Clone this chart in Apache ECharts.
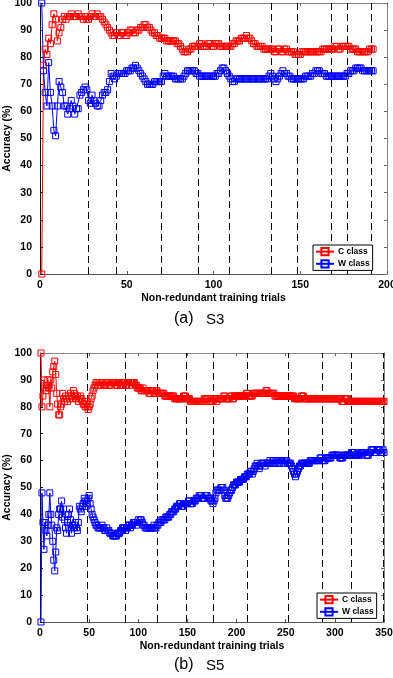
<!DOCTYPE html>
<html>
<head>
<meta charset="utf-8">
<script src="https://cdn.jsdelivr.net/npm/echarts@6/dist/echarts.min.js"></script>
<style>
html,body{margin:0;padding:0;background:#fff;}
#chart{width:393px;height:678px;}
</style>
</head>
<body>
<div id="chart"></div>
<script>
// ---- Panel (a) S3 ----
const s3C = [
0,77,83,81,87,85,92,96,94,86,
89,91,94,95,94,95,95,96,95,95,
95,96,95,95,94,95,94,94,95,96,
95,95,96,95,95,94,93,92,91,90,
89,88,88,89,88,88,89,89,88,88,
89,90,90,89,89,90,90,91,91,92,
92,91,91,90,89,89,88,88,87,87,
87,87,86,86,86,86,86,86,85,85,
84,83,82,82,82,83,83,84,84,84,
84,85,85,84,84,84,85,85,84,84,
85,85,85,84,84,84,84,84,84,84,
85,85,86,86,86,87,87,87,88,87,
87,86,85,85,84,84,84,84,83,83,
83,83,83,83,82,82,83,83,82,82,
83,83,82,82,82,82,81,81,81,81,
82,82,82,82,82,82,82,82,82,82,
82,82,83,83,83,83,83,83,83,84,
84,83,83,84,84,84,84,84,83,83,
83,83,82,82,82,82,82,82,82,83,
83,83
];
const s3W = [
100,75,67,62,78,67,62,53,51,62,
71,69,67,62,62,59,61,64,62,59,
61,61,66,67,68,69,68,64,63,66,
64,63,62,62,64,66,67,67,68,71,
74,73,72,73,74,74,74,74,74,75,
75,75,76,76,77,76,75,74,73,72,
71,70,70,70,70,71,71,71,71,71,
73,74,73,73,73,73,73,72,72,72,
72,72,73,74,75,75,75,75,75,74,
74,73,73,73,73,73,73,73,73,73,
73,74,74,75,76,76,75,74,73,72,
71,71,72,72,72,72,72,72,72,72,
72,72,72,72,72,72,72,72,72,72,
72,73,74,73,72,71,72,73,74,75,
74,74,73,73,72,72,72,72,72,72,
72,72,73,73,73,73,74,74,75,75,
75,74,74,74,73,73,73,73,73,73,
73,73,73,73,73,73,74,74,75,75,
75,76,76,76,76,75,75,75,75,75,
75,75
];
const s3Dashes = [28, 44, 70, 91, 109, 133, 148, 168, 177, 191];
const s3XTicks = [0, 50, 100, 150, 200];

// ---- Panel (b) S5 ----
const s5C = [
100,80,84,90,87,86,88,90,87,80,
90,87,93,95,97,92,85,81,77,77,
80,81,85,83,82,84,83,82,84,83,
85,84,83,86,85,84,83,84,82,83,
84,83,82,81,81,80,82,80,79,80,
81,83,84,86,87,88,89,89,88,89,
89,88,89,89,88,88,88,89,89,88,
88,89,89,89,89,89,89,88,88,89,
89,88,88,89,89,89,88,88,89,89,
88,89,89,89,89,89,88,88,87,87,
87,87,86,86,87,86,86,86,86,86,
85,85,86,86,86,85,85,86,86,85,
85,85,85,85,85,85,84,84,84,84,
84,84,84,84,84,84,83,83,83,83,
83,83,83,83,83,84,84,84,83,83,
83,83,82,82,82,82,82,82,82,82,
82,82,82,82,82,82,83,83,83,83,
83,82,82,82,82,82,83,83,83,82,
83,83,83,83,83,83,84,84,83,83,
83,83,83,84,84,83,83,84,84,84,
84,84,84,84,84,84,84,84,84,85,
85,84,84,84,84,84,85,85,85,85,
85,85,85,85,85,85,85,85,85,86,
86,85,85,85,85,85,85,85,84,84,
84,84,84,84,84,84,84,84,84,84,
84,84,84,84,84,84,84,84,83,83,
83,83,83,83,83,84,84,84,83,83,
83,83,83,83,83,83,83,83,83,83,
83,83,83,83,83,83,83,83,83,83,
83,83,83,83,83,83,83,83,83,83,
83,83,83,83,83,83,82,82,82,83,
83,83,83,82,82,82,82,82,82,82,
82,82,82,82,82,82,82,82,82,82,
82,82,82,82,82,82,82,82,82,82,
82,82,82,82,82,82,82,82,82,82
];
const s5W = [
0,48,37,27,37,34,32,36,40,48,
40,36,30,23,19,26,35,34,40,42,
42,45,39,42,38,35,33,37,40,42,
38,33,36,35,36,37,35,34,37,43,
42,41,43,44,46,45,43,44,46,47,
44,42,40,39,38,37,36,36,35,35,
35,35,36,35,35,34,34,35,34,34,
33,33,33,32,32,32,32,32,33,33,
33,34,34,35,35,35,34,35,35,36,
36,35,36,36,37,37,37,36,37,38,
37,38,38,37,36,36,35,35,35,35,
35,35,35,35,35,36,35,35,36,36,
37,37,37,38,38,38,38,39,39,39,
39,40,40,41,41,41,42,42,43,43,
43,44,44,43,43,44,44,44,44,44,
45,45,44,44,44,45,45,45,46,46,
46,47,47,47,46,46,46,47,47,47,
46,46,46,45,45,44,45,46,48,49,
49,49,49,50,50,50,49,47,46,46,
46,47,48,49,49,50,51,51,51,52,
52,52,52,53,53,53,53,54,54,54,
55,55,55,56,56,55,56,57,58,58,
59,58,57,58,59,59,59,59,58,59,
59,59,59,60,59,59,60,60,59,59,
60,60,59,59,60,60,60,59,60,60,
60,59,59,59,59,58,57,56,55,54,
55,56,57,58,58,59,59,59,59,59,
59,59,59,59,60,60,60,60,60,60,
60,60,60,60,61,61,60,60,60,60,
61,61,61,61,61,61,62,62,62,62,
62,62,62,62,61,61,61,61,62,62,
62,62,62,62,62,62,63,63,63,62,
62,62,62,62,62,63,63,63,63,63,
63,62,62,62,63,63,64,64,64,63,
63,63,64,64,64,64,63,63,64,63
];
const s5Dashes = [48, 87, 119, 149, 176, 211, 253, 287, 317, 349];
const s5XTicks = [0, 50, 100, 150, 200, 250, 300, 350];

const yTicks = [0, 10, 20, 30, 40, 50, 60, 70, 80, 90, 100];
const classNames = ['C class', 'W class'];
const captions = [['(a)', 'S3'], ['(b)', 'S5']];

const RED = '#ff0000', BLUE = '#0000ff';
const FONT = '"Liberation Sans", Arial, Helvetica, sans-serif';

function toPts(arr) { return arr.map((v, i) => [i + 1, v]); }

function lineSeries(name, color, data, xi, yi, dashes) {
  const s = {
    name: name, type: 'line', xAxisIndex: xi, yAxisIndex: yi,
    data: toPts(data), symbol: 'rect', symbolSize: 6,
    lineStyle: { color: color, width: 1 },
    itemStyle: { color: 'rgba(255,255,255,0)', borderColor: color, borderWidth: 1 },
    emphasis: { disabled: true }, silent: true, z: 3
  };
  if (dashes) {
    s.markLine = {
      silent: true, symbol: 'none', z: 1, animation: false,
      label: { show: false },
      lineStyle: { type: [7, 4], color: '#000', width: 1 },
      emphasis: { disabled: true },
      data: dashes.map(d => ({ xAxis: d }))
    };
  }
  return s;
}

function xAxes(gi, max, ticks) {
  return [{
    type: 'value', gridIndex: gi, min: 0, max: max, interval: 50, position: 'bottom',
    axisLine: { onZero: false, lineStyle: { color: '#555', width: 1 } },
    axisTick: { inside: true, length: 3, lineStyle: { color: '#555' } },
    axisLabel: { color: '#000', fontFamily: FONT, fontWeight: 'bold', fontSize: 10.5, margin: 6,
      formatter: v => (ticks.indexOf(v) >= 0 ? String(v) : '') },
    splitLine: { show: false },
    name: 'Non-redundant training trials', nameLocation: 'middle', nameGap: 19, nameMoveOverlap: false,
    nameTextStyle: { color: '#000', fontFamily: FONT, fontWeight: 'bold', fontSize: 10.5 }
  }, {
    type: 'value', gridIndex: gi, min: 0, max: max, interval: 50, position: 'top',
    axisLine: { onZero: false, lineStyle: { color: '#888', width: 1 } },
    axisTick: { inside: true, length: 3, lineStyle: { color: '#666' } },
    axisLabel: { show: false }, splitLine: { show: false }
  }];
}

function yAxes(gi) {
  return [{
    type: 'value', gridIndex: gi, min: 0, max: 100, interval: 10, position: 'left',
    axisLine: { show: true, onZero: false, lineStyle: { color: '#111', width: 1 } },
    axisTick: { show: true, inside: true, length: 3, lineStyle: { color: '#111' } },
    axisLabel: { color: '#000', fontFamily: FONT, fontWeight: 'bold', fontSize: 10.5, margin: 8,
      formatter: v => (yTicks.indexOf(v) >= 0 ? String(v) : '') },
    splitLine: { show: false },
    name: 'Accuracy (%)', nameLocation: 'middle', nameGap: 27, nameRotate: 90, nameMoveOverlap: false,
    nameTextStyle: { color: '#000', fontFamily: FONT, fontWeight: 'bold', fontSize: 10.5 }
  }, {
    type: 'value', gridIndex: gi, min: 0, max: 100, interval: 10, position: 'right',
    axisLine: { show: true, onZero: false, lineStyle: { color: '#888', width: 1 } },
    axisTick: { show: true, inside: true, length: 3, lineStyle: { color: '#666' } },
    axisLabel: { show: false }, splitLine: { show: false }
  }];
}

function legendAt(left, top) {
  return {
    data: classNames, orient: 'vertical', left: left, top: top,
    padding: [2, 3, 2, 2], itemGap: 3, itemWidth: 18, itemHeight: 9,
    backgroundColor: '#fff', borderColor: '#000', borderWidth: 1, borderRadius: 0,
    selectedMode: false,
    textStyle: { color: '#000', fontFamily: FONT, fontWeight: 'bold', fontSize: 8.5, padding: [0, 0, 0, -1] }
  };
}

const chart = echarts.init(document.getElementById('chart'), null, { renderer: 'canvas' });
chart.setOption({
  animation: false,
  backgroundColor: '#fff',
  grid: [
    { left: 40, top: 3, width: 347, height: 271, containLabel: false, outerBoundsMode: 'none' },
    { left: 40, top: 353, width: 344, height: 269, containLabel: false, outerBoundsMode: 'none' }
  ],
  xAxis: [].concat(xAxes(0, 200, s3XTicks), xAxes(1, 350, s5XTicks)),
  yAxis: [].concat(yAxes(0), yAxes(1)),
  legend: [legendAt(313, 245), legendAt(317, 593)],
  series: [
    lineSeries(classNames[0], RED, s3C, 0, 0, s3Dashes),
    lineSeries(classNames[1], BLUE, s3W, 0, 0, null),
    lineSeries(classNames[0], RED, s5C, 2, 2, s5Dashes),
    lineSeries(classNames[1], BLUE, s5W, 2, 2, null)
  ],
  graphic: [
    { type: 'text', left: 174, top: 311, style: { text: captions[0][0], fill: '#000', font: '16px ' + FONT } },
    { type: 'text', left: 206, top: 312, style: { text: captions[0][1], fill: '#000', font: '15px ' + FONT } },
    { type: 'text', left: 174, top: 657, style: { text: captions[1][0], fill: '#000', font: '16px ' + FONT } },
    { type: 'text', left: 206, top: 658, style: { text: captions[1][1], fill: '#000', font: '15px ' + FONT } }
  ]
});
</script>
</body>
</html>
